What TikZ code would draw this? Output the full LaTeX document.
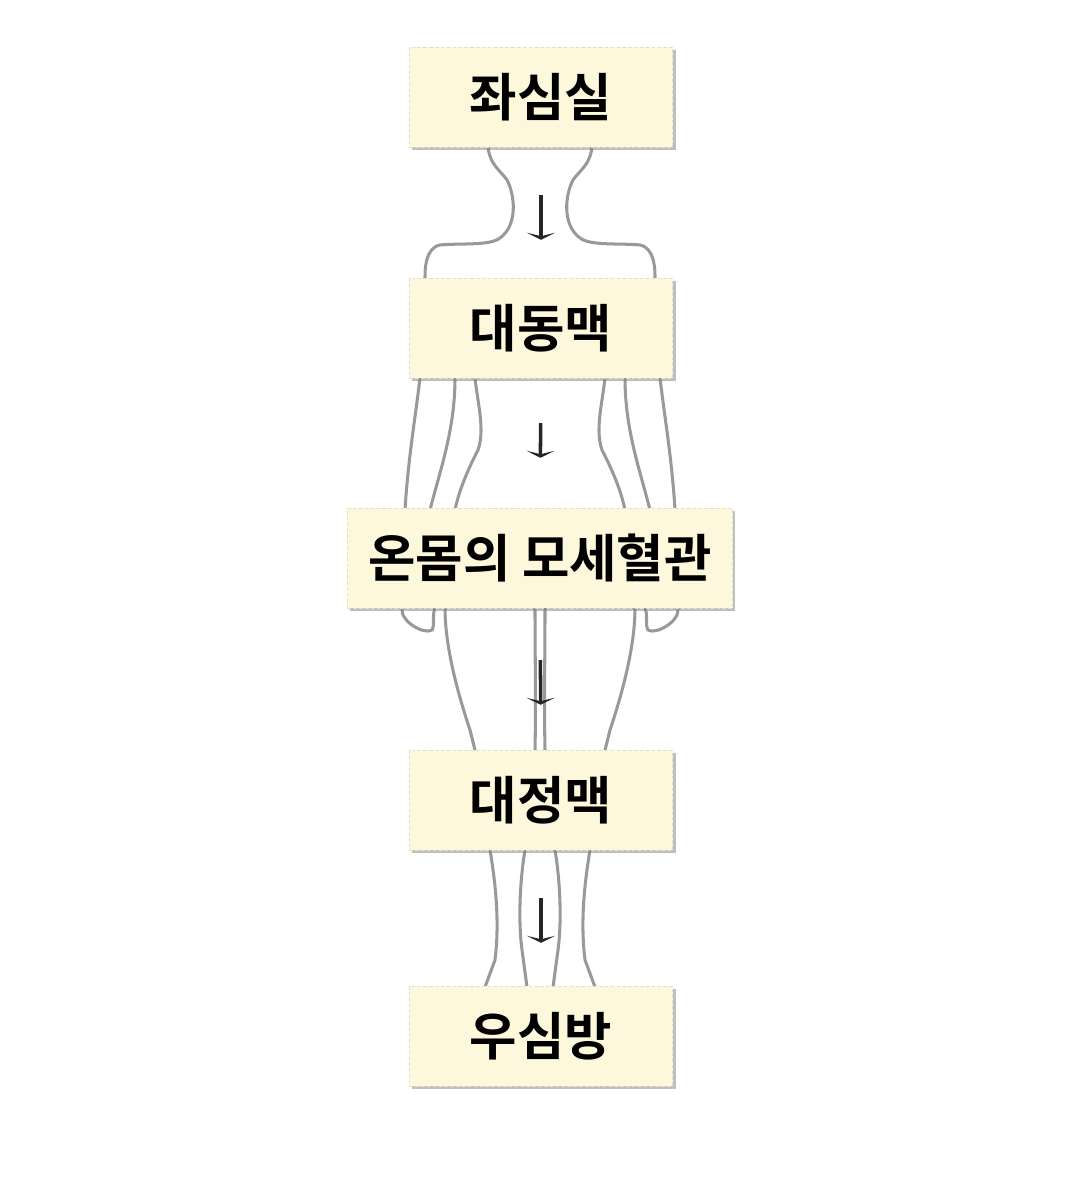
\documentclass[tikz,border=0pt]{standalone}
\usepackage{fontspec}
\newfontfamily\kr{Noto Sans CJK KR}[BoldFont={Noto Sans CJK KR Bold}]
\usetikzlibrary{shadows,arrows.meta}
\definecolor{cream}{RGB}{253,247,220}
\begin{document}
\begin{tikzpicture}[x=0.03cm,y=-0.03cm]
	\tikzset{organ/.style={fill=cream, draw=cream!80!gray, densely dashed, minimum height=3cm, inner sep=0, font=\kr\bfseries\fontsize{44}{50}\selectfont, drop shadow={shadow xshift=2.5pt, shadow yshift=-2.5pt, opacity=0.5}}}
	\tikzset{flow/.style={-{Stealth[length=6pt,width=24pt,inset=3pt]}, draw=black!85, line width=3pt}}
	\tikzset{body/.style={draw=black!40, line width=2.6pt, line cap=round}}
	\useasboundingbox (0,0) rectangle (1080,1180);
	% body outline, both halves
	\foreach \s in {1,-1} {
		\begin{scope}[xshift=540*0.03cm, xscale=\s]
			\draw[body] (-52,147) .. controls (-50,165) and (-40,170) .. (-33,180) .. controls (-25,195) and (-22,225) .. (-40,238) .. controls (-50,246) and (-80,243) .. (-100,245) .. controls (-115,248) and (-115,270) .. (-115,278);
			\draw[body] (-120,378) .. controls (-125,420) and (-132,460) .. (-135,510);
			\draw[body] (-85,378) .. controls (-85,430) and (-100,470) .. (-110,510);
			\draw[body] (-65,378) .. controls (-62,405) and (-55,430) .. (-62,450) .. controls (-75,475) and (-82,495) .. (-85,510);
			\draw[body] (-138,608) .. controls (-140,622) and (-115,635) .. (-108,630) .. controls (-105,625) and (-108,615) .. (-105,608);
			\draw[body] (-95,608) .. controls (-95,650) and (-80,700) .. (-70,730) -- (-65,750);
			\draw[body] (-5,608) .. controls (-5,660) and (-4,700) .. (-5,750);
			\draw[body] (-50,850) .. controls (-45,880) and (-40,920) .. (-45,960) -- (-55,987);
			\draw[body] (-15,850) .. controls (-20,880) and (-22,920) .. (-18,950) -- (-13,987);
		\end{scope}
	}
	\node[organ, minimum width=7.9cm] (lv) at (541,97) {좌심실};
	\node[organ, minimum width=7.9cm] (aorta) at (541,328) {대동맥};
	\node[organ, minimum width=11.55cm] (cap) at (540,558) {온몸의 모세혈관};
	\node[organ, minimum width=7.9cm] (vc) at (541,800) {대정맥};
	\node[organ, minimum width=7.9cm] (ra) at (541,1036) {우심방};
	\draw[flow, shorten <=48*0.03cm, shorten >=38*0.03cm] (lv) -- (aorta);
	\draw[flow, shorten <=45*0.03cm, shorten >=50*0.03cm] (aorta) -- (cap);
	\draw[flow, shorten <=52*0.03cm, shorten >=45*0.03cm] (cap) -- (vc);
	\draw[flow, shorten <=48*0.03cm, shorten >=43*0.03cm] (vc) -- (ra);
\end{tikzpicture}
\end{document}
